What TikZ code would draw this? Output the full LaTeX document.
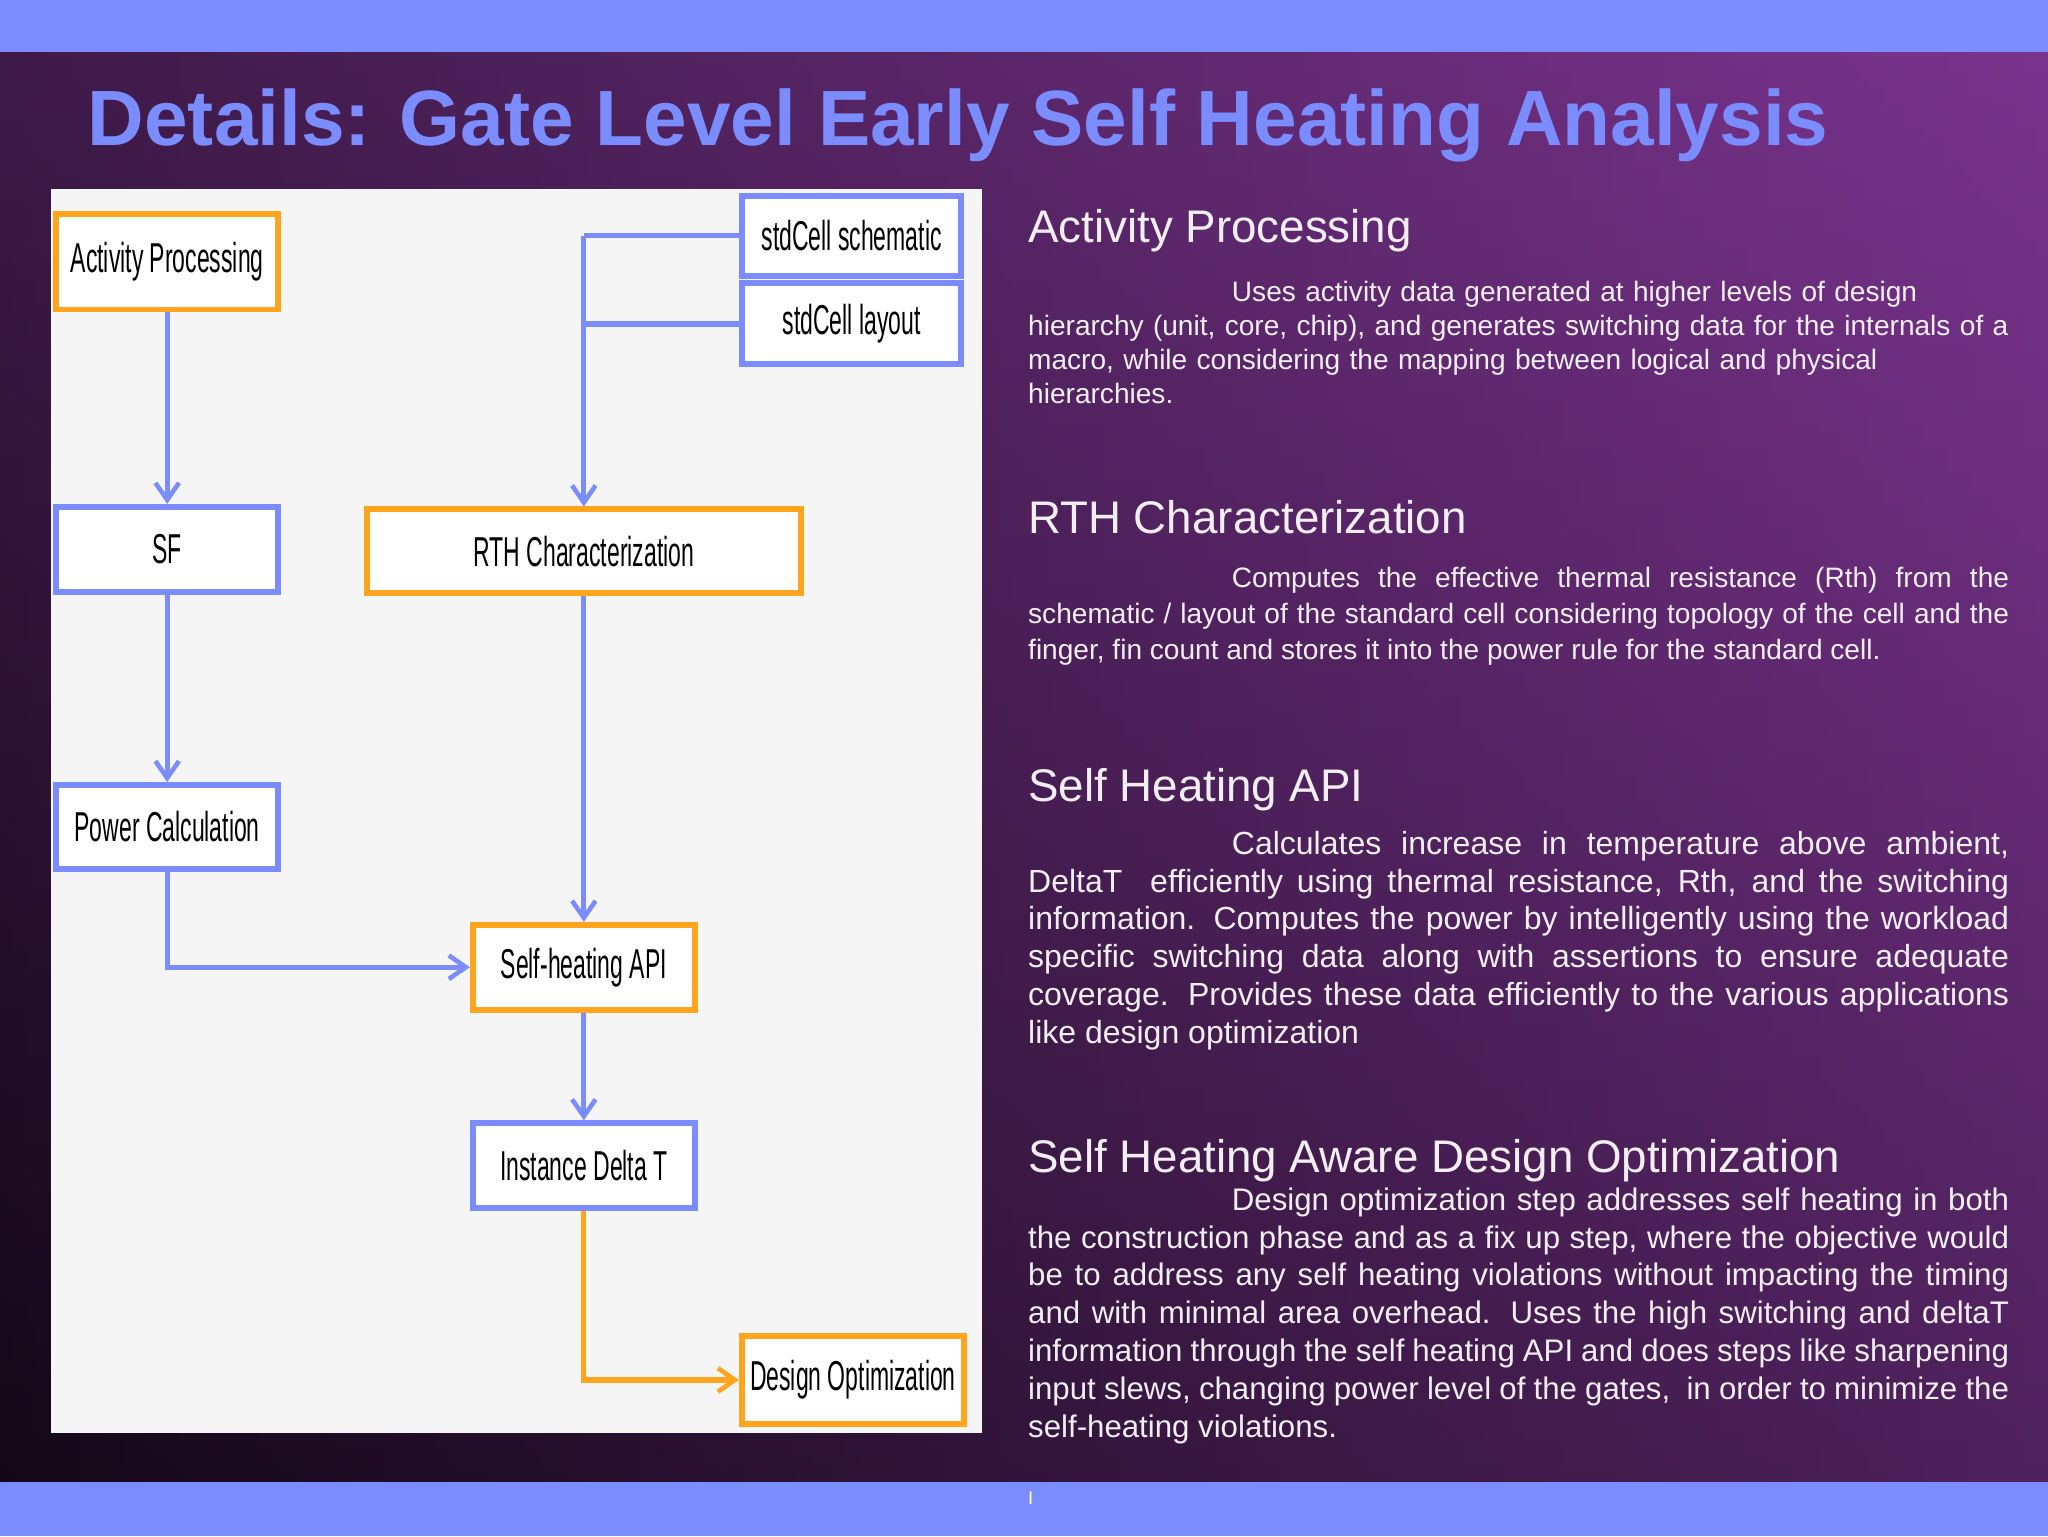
\documentclass[tikz,border=0pt]{standalone}
\usepackage{fontspec}
\usepackage{graphicx}
\setmainfont{Liberation Sans}
\usetikzlibrary{arrows.meta}
\hyphenpenalty=10000
\exhyphenpenalty=10000
\definecolor{lb}{HTML}{7B8CFF}
\definecolor{og}{HTML}{FFA41C}
\definecolor{txt}{HTML}{F2EEF4}
\newcommand{\nrw}[1]{\scalebox{0.55}[1]{#1}}
\tikzset{
  box/.style={draw=#1,line width=4.5pt,fill=white,minimum height=66pt,text=black,font=\fontsize{32}{34}\selectfont,inner sep=0pt,align=center},
  conn/.style={draw=lb,line width=4pt,-{Straight Barb[length=13pt,width=18pt,line width=3.5pt]}},
  line/.style={draw=lb,line width=4pt},
  head/.style={anchor=north west,text=txt,font=\fontsize{35}{40}\selectfont,inner sep=0},
  body/.style={anchor=north west,text=txt,text width=751pt,inner sep=0}
}
\begin{document}
\begin{tikzpicture}[x=1pt,y=-1pt]
\useasboundingbox (0,0) rectangle (1568,1176);
\shade[left color={rgb,255:red,30;green,12;blue,35}, right color={rgb,255:red,122;green,52;blue,142}] (0,40) rectangle (1568,1135);
\shade[top color={rgb,255:red,122;green,52;blue,142},bottom color=black,opacity=0.35] (0,40) rectangle (1568,1135);
\fill[lb] (0,0) rectangle (1568,40);
\fill[lb] (0,1135) rectangle (1568,1176);
\node[anchor=west,text=lb,font=\bfseries\fontsize{60}{64}\selectfont,inner sep=0] (title) at (67,96) {Details: Gate Level Early Self Heating Analysis};
\fill[white!96!black] (39,145) rectangle (752,1097);

\node[box=og,minimum width=170pt,minimum height=73pt] (ap) at (128,200.5) {\nrw{Activity Processing}};
\node[box=lb,minimum width=168pt,minimum height=61pt] (sch) at (652,180.5) {\nrw{stdCell schematic}};
\node[box=lb,minimum width=168pt,minimum height=62pt] (lay) at (652,248) {\nrw{stdCell layout}};
\node[box=lb,minimum width=170pt,minimum height=65pt] (sf) at (128,420.5) {\nrw{SF}};
\node[box=og,minimum width=332pt,minimum height=64pt] (rth) at (447,422) {\nrw{RTH Characterization}};
\node[box=lb,minimum width=170pt,minimum height=64pt] (pc) at (128,633) {\nrw{Power Calculation}};
\node[box=og,minimum width=170pt,minimum height=65pt] (sh) at (447,740.5) {\nrw{Self-heating API}};
\node[box=lb,minimum width=170pt,minimum height=65pt] (id) at (447,892.5) {\nrw{Instance Delta T}};
\node[box=og,minimum width=170pt,minimum height=67pt] (do) at (653,1056.5) {\nrw{Design Optimization}};

\coordinate (j1) at (sch.west -| rth.north);
\coordinate (j2) at (lay.west -| rth.north);
\draw[conn] (ap) -- (sf);
\draw[conn] (sf) -- (pc);
\draw[conn] (pc.south) |- (sh.west);
\draw[line] (sch.west) -- (j1);
\draw[line] (lay.west) -- (j2);
\draw[conn] (j1) -- (rth.north);
\draw[conn] (rth) -- (sh);
\draw[conn] (sh) -- (id);
\draw[conn,draw=og] (id.south) |- (do.west);

\node[head] (h1) at (787,160) {Activity Processing};
\node[body,align=left,font=\fontsize{21.5}{26}\selectfont] (b1) at (787,215) {\hspace*{156pt}Uses activity data generated at higher levels of design\\hierarchy (unit, core, chip), and generates switching data for the internals of a\\macro, while considering the mapping between logical and physical\\hierarchies.};
\node[head] (h2) at (787,383) {RTH Characterization};
\node[body,align=justify,font=\fontsize{21.5}{27.5}\selectfont] (b2) at (787,434) {\hspace*{156pt}Computes the effective thermal resistance (Rth) from the schematic / layout of the standard cell considering topology of the cell and the finger, fin count and stores it into the power rule for the standard cell.};
\node[head] (h3) at (787,588) {Self Heating API};
\node[body,align=justify,font=\fontsize{24.5}{29}\selectfont] (b3) at (787,636) {\hspace*{156pt}Calculates increase in temperature above ambient, DeltaT\ \ efficiently using thermal resistance, Rth, and the switching information. Computes the power by intelligently using the workload specific switching data along with assertions to ensure adequate coverage. Provides these data efficiently to the various applications like design optimization};
\node[head] (h4) at (787,872) {Self Heating Aware Design Optimization};
\node[body,align=justify,font=\fontsize{23.9}{29}\selectfont] (b4) at (787,909) {\hspace*{156pt}Design optimization step addresses self heating in both the construction phase and as a fix up step, where the objective would be to address any self heating violations without impacting the timing and with minimal area overhead. Uses the high switching and deltaT information through the self heating API and does steps like sharpening input slews, changing power level of the gates,\ \ in order to minimize the self-heating violations.};
\node[text=white,font=\fontsize{14}{14}\selectfont,inner sep=0] (mk) at (789,1147) {I};
\end{tikzpicture}
\end{document}
